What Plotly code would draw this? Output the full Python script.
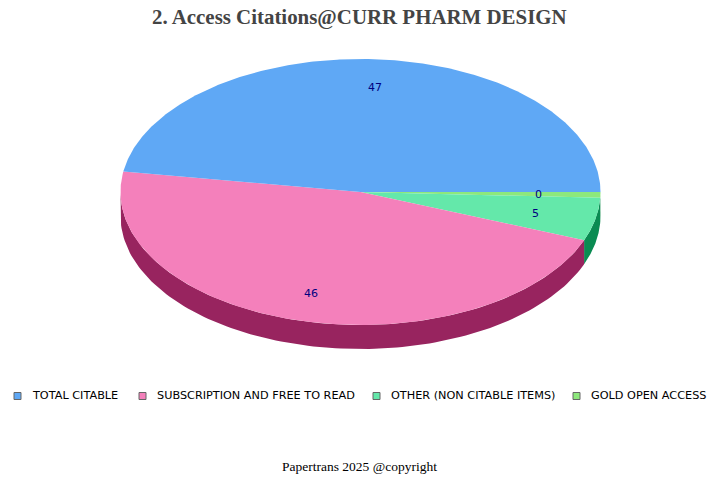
import numpy as np
import plotly.graph_objects as go

categories = ["TOTAL CITABLE", "SUBSCRIPTION AND FREE TO READ", "OTHER (NON CITABLE ITEMS)", "GOLD OPEN ACCESS"]
values = [47.4, 46.4, 5.2, 0.7]
labels = [47, 46, 5, 0]
top_colors = ["#5fa8f5", "#f480bb", "#64e8aa", "#8de87c"]
side_colors = ["#2a6ab0", "#98245f", "#0a8b52", "#2f8f45"]
legend_x = [17.5, 142.5, 376.5, 576.5]
label_dx = [0, -1, -8, -9]
label_dy = [-1.5, 1.5, 0.5, 0.5]

cx, cy, rx, ry, depth = 360.5, 192, 240, 133, 24
label_r = 0.78

# Slices run clockwise on screen starting at 3 o'clock, from the last category to the first.
fractions = np.array(values) / sum(values)
order = [3, 2, 1, 0]
spans = {}
start = 0.0
for i in order:
    spans[i] = (start, start + fractions[i] * 2 * np.pi)
    start = spans[i][1]

fig = go.Figure()


def ellipse(angles, dy=0.0):
    return cx + rx * np.cos(angles), cy + dy + ry * np.sin(angles)


# Side wall: only the front half (screen-lower half) of the pie shows.
for i in order:
    a0, a1 = spans[i]
    a1 = min(a1, np.pi)
    if a1 <= a0:
        continue
    t = np.linspace(a0, a1, 120)
    x1, y1 = ellipse(t)
    x2, y2 = ellipse(t[::-1], depth)
    fig.add_trace(go.Scatter(
        x=np.concatenate([x1, x2]), y=np.concatenate([y1, y2]),
        mode="lines", fill="toself", fillcolor=side_colors[i],
        line=dict(width=0), hoverinfo="skip", showlegend=False,
    ))

# Top face
for i in order:
    a0, a1 = spans[i]
    t = np.linspace(a0, a1, 300)
    x1, y1 = ellipse(t)
    fig.add_trace(go.Scatter(
        x=np.concatenate([[cx], x1, [cx]]), y=np.concatenate([[cy], y1, [cy]]),
        mode="lines", fill="toself", fillcolor=top_colors[i], name=categories[i],
        line=dict(width=0), hoverinfo="name", showlegend=False,
    ))

# Value labels
for i in order:
    mid = sum(spans[i]) / 2
    lx = cx + label_r * rx * np.cos(mid) + label_dx[i]
    ly = cy + label_r * ry * np.sin(mid) + label_dy[i]
    fig.add_annotation(x=lx, y=ly, text=str(labels[i]), showarrow=False, xanchor="center", yanchor="middle",
                       font=dict(family="DejaVu Sans", size=11, color="#000080"))

# Legend row
legend_y = 396
for i, name in enumerate(categories):
    fig.add_trace(go.Scatter(
        x=[legend_x[i]], y=[legend_y], mode="markers", hoverinfo="skip", showlegend=False,
        marker=dict(symbol="square", size=7, color=top_colors[i], line=dict(width=1, color="#666666")),
    ))
    fig.add_annotation(x=legend_x[i] + 12, y=legend_y - 0.5, text=name, showarrow=False,
                       xanchor="left", yanchor="middle",
                       font=dict(family="DejaVu Sans", size=11.25, color="#000000"))

fig.add_annotation(x=359.5, y=17, text="<b>2. Access Citations@CURR PHARM DESIGN</b>", showarrow=False,
                   xanchor="center", yanchor="middle",
                   font=dict(family="Liberation Serif", size=20.9, color="#444444"))
fig.add_annotation(x=359, y=466, text="Papertrans 2025 @copyright", showarrow=False,
                   xanchor="center", yanchor="middle",
                   font=dict(family="Liberation Serif", size=13.5, color="#000000"))

fig.update_layout(
    width=720, height=480, margin=dict(l=0, r=0, t=0, b=0),
    paper_bgcolor="#ffffff", plot_bgcolor="#ffffff", showlegend=False,
    xaxis=dict(range=[0, 720], visible=False, fixedrange=True),
    yaxis=dict(range=[480, 0], visible=False, fixedrange=True),
)
fig.write_html("out.html", config={"displayModeBar": False},
               post_script="document.body.style.margin='0';document.body.style.overflow='hidden';")
